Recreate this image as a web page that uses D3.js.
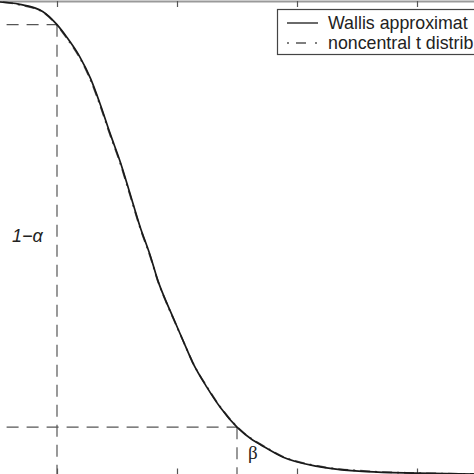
<!DOCTYPE html>
<html>
<head>
<meta charset="utf-8">
<script src="https://cdn.jsdelivr.net/npm/d3@7"></script>
<style>
  html, body { margin: 0; padding: 0; background: #fff; overflow: hidden; }
  svg { display: block; }
</style>
</head>
<body>
<svg id="chart" width="474" height="474"></svg>
<script>
// ---- data ----
const xTicks = [1, 2, 3, 4];
const xTickLabels = ["", "", "", ""];
const curveX = [0.00, 0.25, 0.52, 0.69, 0.88, 1.00, 1.08, 1.19, 1.28, 1.36, 1.44, 1.53, 1.61, 1.69, 1.78, 1.84, 1.91, 1.97, 2.05, 2.13, 2.25, 2.36, 2.50, 2.63, 2.69, 2.88, 3.17, 3.58, 4.00, 4.50, 5.00];
const wallisY = [1.000, 1.000, 0.998, 0.993, 0.978, 0.950, 0.924, 0.882, 0.836, 0.782, 0.722, 0.658, 0.592, 0.525, 0.460, 0.410, 0.365, 0.330, 0.283, 0.237, 0.184, 0.142, 0.100, 0.073, 0.064, 0.037, 0.017, 0.006, 0.003, 0.001, 0.000];
const ncTY    = [1.000, 1.000, 0.998, 0.992, 0.977, 0.949, 0.922, 0.880, 0.833, 0.779, 0.719, 0.655, 0.589, 0.523, 0.458, 0.409, 0.364, 0.329, 0.283, 0.237, 0.185, 0.143, 0.101, 0.074, 0.065, 0.038, 0.018, 0.007, 0.003, 0.001, 0.000];
// legend texts as visible in the (cropped) reference
const seriesNames = ["Wallis approximat", "noncentral t distrib"];
const alpha = 0.05;
const beta = 0.10;
const xAlpha = 1.0;
const xBeta = 2.5;
const refStartX = 0.58;
const labelOneMinusAlpha = "1\u2212\u03b1";
const labelBeta = "\u03b2";

// ---- drawing ----
const svg = d3.select("#chart");
const x = d3.scaleLinear().domain([0, 5]).range([-63, 537]);
const y = d3.scaleLinear().domain([0, 1]).range([474.5, 1]);

// reference dashed lines
const refColor = "#555";
const dash = "12,8";
function refLine(x1, y1, x2, y2) {
  svg.append("line")
    .attr("x1", x(x1)).attr("x2", x(x2))
    .attr("y1", y(y1)).attr("y2", y(y2))
    .attr("stroke", refColor).attr("stroke-width", 1.2).attr("stroke-dasharray", dash);
}
refLine(refStartX, 1 - alpha, xAlpha, 1 - alpha);
refLine(xAlpha, 1 - alpha, xAlpha, 0);
refLine(refStartX, beta, xBeta, beta);
refLine(xBeta, beta, xBeta, 0);

// axes
const topAxis = d3.axisTop(x).tickValues(xTicks).tickFormat((d, i) => xTickLabels[i]).tickSize(-6).tickSizeOuter(0);
const bottomAxis = d3.axisBottom(x).tickValues(xTicks).tickFormat((d, i) => xTickLabels[i]).tickSize(-6).tickSizeOuter(0);
const gTop = svg.append("g").attr("transform", `translate(0,${y(1)})`).call(topAxis);
const gBot = svg.append("g").attr("transform", `translate(0,${y(0)})`).call(bottomAxis);
[gTop, gBot].forEach(g => {
  g.select(".domain").attr("stroke", "#9a9a9a").attr("stroke-width", 2.2);
  g.selectAll(".tick line").attr("stroke", "#555").attr("stroke-width", 1.2);
});

// curves
const line = d3.line().curve(d3.curveMonotoneX);
const wallisPts = curveX.map((d, i) => [x(d), y(wallisY[i])]);
const ncTPts = curveX.map((d, i) => [x(d), y(ncTY[i])]);
svg.append("path").attr("d", line(ncTPts))
  .attr("fill", "none").attr("stroke", "#555").attr("stroke-width", 1.8)
  .attr("stroke-dasharray", "10,5,2,5");
svg.append("path").attr("d", line(wallisPts))
  .attr("fill", "none").attr("stroke", "#1a1a1a").attr("stroke-width", 1.7);

// labels
svg.append("text").attr("x", 12).attr("y", y(0.5) + 4)
  .attr("font-family", "Liberation Sans, Arial, sans-serif").attr("font-size", 18)
  .attr("font-style", "italic").attr("fill", "#222").text(labelOneMinusAlpha);
svg.append("text").attr("x", 248).attr("y", 459)
  .attr("font-family", "Liberation Serif, Times New Roman, serif").attr("font-size", 19)
  .attr("fill", "#222").text(labelBeta);

// legend
const lg = svg.append("g");
lg.append("rect").attr("x", 277.5).attr("y", 9.5).attr("width", 260).attr("height", 45)
  .attr("fill", "#fff").attr("stroke", "#444").attr("stroke-width", 1.2);
const legendStyles = [
  { stroke: "#1a1a1a", dash: null },
  { stroke: "#555", dash: "2,7,10,9" }
];
seriesNames.forEach((name, i) => {
  const yy = 23 + i * 20;
  const l = lg.append("line").attr("x1", 287).attr("x2", 318).attr("y1", yy).attr("y2", yy)
    .attr("stroke", legendStyles[i].stroke).attr("stroke-width", 1.3);
  if (legendStyles[i].dash) l.attr("stroke-dasharray", legendStyles[i].dash);
  lg.append("text").attr("x", 328).attr("y", yy + 5.5)
    .attr("font-family", "Liberation Sans, Arial, sans-serif").attr("font-size", 17.8)
    .attr("fill", "#222").text(name);
});
</script>
</body>
</html>
